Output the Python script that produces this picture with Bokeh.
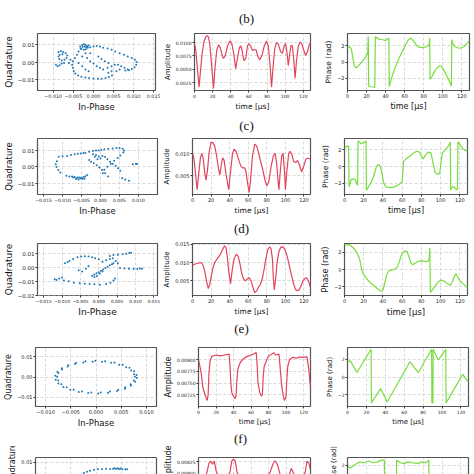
from bokeh.plotting import figure
from bokeh.layouts import column, row
from bokeh.models import Range1d, FixedTicker, CustomJSTickFormatter, Label, LinearAxis
from bokeh.embed import file_html
from bokeh.resources import INLINE

BLUE = "#1f77b4"
RED = "#e2445c"
GREEN = "#77dd3c"
FRAME = "#555555"

# ---------------- row (b) ----------------
b_i = [-0.0087,-0.0081,-0.0075,-0.0069,-0.0065,-0.0067,-0.0072,-0.0079,-0.0085,-0.0087,-0.0084,-0.0077,
       -0.0093,-0.0089,-0.0084,-0.0079,-0.0073,
       -0.0033,-0.0028,-0.0024,-0.0020,-0.0016,-0.0014,-0.0019,-0.0024,-0.0030,-0.0027,-0.0022,-0.0018,-0.0032,-0.0012,
       -0.0008,0.0,0.0008,0.0016,0.0024,0.0035,0.0045,0.0054,0.0065,0.0076,0.0085,0.0095,0.0103,0.0107,0.0106,0.0102,0.0095,0.0088,0.0079,
       -0.0037,-0.0041,-0.0046,-0.0051,-0.0053,-0.0051,-0.0049,-0.0045,-0.0038,-0.0030,-0.0020,-0.0011,0.0,0.0011,0.0020,0.0030,0.0038,0.0046,
       -0.0061,-0.0057,-0.0028,-0.0016,-0.0008,0.0,0.0008,0.0016,0.0024,0.0035,0.0045,0.0053,0.0061,0.0069,0.0077,0.0085,0.0057,0.0065,0.0045,0.0037,
       0.0012,0.0020,0.0028,0.0037,-0.0008,-0.0020,-0.0037,-0.0028,-0.0020,-0.0012]
b_q = [0.0056,0.0061,0.0057,0.0050,0.0037,0.0022,0.0013,0.0009,0.0017,0.0031,0.0041,0.0044,
       -0.0015,-0.0024,-0.0019,-0.0009,-0.0006,
       0.0087,0.0096,0.0100,0.0096,0.0091,0.0081,0.0072,0.0069,0.0074,0.0085,0.0087,0.0083,0.0076,0.0093,
       0.0083,0.0087,0.0091,0.0087,0.0081,0.0076,0.0069,0.0059,0.0050,0.0041,0.0031,0.0022,0.0013,0.0,-0.0015,-0.0030,-0.0039,-0.0046,-0.0048,
       0.0059,0.0041,0.0022,0.0004,-0.0015,-0.0033,-0.0052,-0.0065,-0.0076,-0.0083,-0.0087,-0.0091,-0.0093,-0.0094,-0.0094,-0.0091,-0.0085,-0.0076,
       -0.0006,0.0013,0.0031,0.0022,0.0004,-0.0009,-0.0024,-0.0033,-0.0043,-0.0033,-0.0024,-0.0015,-0.0015,-0.0024,-0.0033,-0.0043,-0.0052,-0.0043,-0.0052,-0.0061,
       0.0031,0.0017,0.0004,-0.0006,0.0050,0.0050,-0.0006,-0.0024,-0.0043,-0.0052]
b_amp_t = [0,1.5,3,5,6.5,8.5,10.5,12.5,14,15.5,17,19,21,22.5,24.5,26.5,28.5,30.5,32,34,36.5,39,41,43,45.5,47.5,49.5,51,52.5,54.5,56.5,58.5,60,62,64,66,68,70,72,74.5,77,79.5,81.5,83.5,85,86.5,88.5,90.5,92.5,95,97,99,100.5,102,103.5,105,106.5,108,109.5,111,112.5,114.5,116.5,118.5,120.5,122.5,124.5,126.5,128]
b_amp = [0.0098,0.0085,0.0055,0.0016,0.0045,0.0080,0.0102,0.0111,0.0113,0.0110,0.0095,0.0055,0.0014,0.0050,0.0085,0.0096,0.0090,0.0076,0.0070,0.0076,0.0094,0.0103,0.0099,0.0082,0.0051,0.0072,0.0090,0.0094,0.0085,0.0066,0.0070,0.0094,0.0098,0.0093,0.0085,0.0087,0.0086,0.0073,0.0068,0.0076,0.0094,0.0103,0.0093,0.0055,0.0016,0.0050,0.0088,0.0100,0.0097,0.0083,0.0080,0.0094,0.0098,0.0082,0.0057,0.0078,0.0095,0.0094,0.0068,0.0033,0.0065,0.0093,0.0101,0.0097,0.0086,0.0076,0.0082,0.0095,0.0101]
b_ph_t = [0,2,4,5.5,7,8.5,10,12,15,18,20.5,21.3,21.8,22.2,25,28.7,29.2,31,34,37,40,42,43.4,43.8,46,49,52,55,58,61,64,66.5,69,72,75,79,83,85.5,86.3,86.6,88.5,91,94,97,99,102,105,107.5,109,109.4,111,113,116,119,122,125,128]
b_ph = [1.8,1.85,1.6,0.6,-0.4,-0.7,-0.65,-0.4,0.0,0.45,0.9,1.2,3.1,-2.9,-3.0,-3.1,3.1,2.9,2.75,2.7,2.6,2.8,2.9,-3.0,-2.0,-1.0,-0.1,0.7,1.4,2.1,2.7,2.9,2.6,2.1,1.8,1.75,1.85,2.1,2.9,-2.1,-1.8,-1.2,-0.7,-0.45,-0.55,-1.2,-1.9,-2.5,-2.9,2.7,2.1,1.85,1.7,1.7,1.85,2.2,2.6]

# ---------------- row (c) ----------------
c_i = [-0.0115,-0.0118,-0.0116,-0.0111,-0.0106,-0.0110,-0.0100,-0.0088,-0.0078,-0.0068,-0.0060,-0.0052,-0.0045,-0.0040,
       -0.0030,-0.0020,-0.0012,-0.0005,0.0002,0.0010,0.0020,0.0032,0.0042,0.0050,0.0058,0.0062,0.0060,0.0052,0.0045,0.0036,0.0027,0.0018,0.0010,0.0006,
       0.0057,0.0065,0.0075,0.0085,0.0093,0.0096,
       -0.0075,-0.0068,-0.0060,-0.0055,-0.0050,-0.0045,-0.0040,-0.0035,-0.0062,-0.0053,-0.0047,-0.0042,
       -0.0020,-0.0012,-0.0005,0.0000,-0.0008,-0.0015,0.0005,0.0012,0.0018,0.0025,0.0032,0.0040,0.0046,0.0052,
       -0.0090,-0.0082,-0.0072,-0.0065,-0.0058,-0.0030,-0.0025,-0.0018,-0.0010,-0.0003,0.0004,0.0012,0.0020]
c_q = [0.0032,0.0015,-0.0002,-0.0020,-0.0035,0.0060,0.0063,0.0064,0.0070,0.0075,0.0078,0.0080,0.0082,0.0083,
       0.0090,0.0095,0.0097,0.0098,0.0100,0.0105,0.0108,0.0110,0.0112,0.0112,0.0108,0.0098,0.0085,0.0068,0.0052,0.0035,0.0018,0.0000,-0.0018,-0.0040,
       -0.0070,-0.0078,-0.0085,0.0015,0.0018,0.0016,
       -0.0060,-0.0063,-0.0066,-0.0065,-0.0068,-0.0062,-0.0058,-0.0050,-0.0068,-0.0072,-0.0075,-0.0072,
       0.0075,0.0070,0.0062,0.0050,0.0045,0.0060,0.0065,0.0058,0.0045,0.0030,0.0018,0.0005,-0.0010,-0.0025,
       -0.0055,-0.0060,-0.0065,-0.0075,-0.0078,0.0040,0.0030,0.0020,0.0008,-0.0005,-0.0020,-0.0040,-0.0060]
c_amp_t = [0,1.5,3,5,6.5,8.5,10,11.5,13,14.5,16,18,20,22,24,26,28,29.5,31,32.5,34,36,39,41,43,45,47,50,52,54,56,57.5,59.5,61,62.5,64.5,67,69,71,73,75.5,78,80,82,84.5,87,89,90.5,92,93,94.5,96,97.5,99,100,101.5,103.5,105,107,109,111,113,115,117.5,119.5,122,124.5,127]
c_amp = [0.0101,0.0090,0.0060,0.0018,0.0050,0.0090,0.0101,0.0090,0.0060,0.0040,0.0060,0.0105,0.0127,0.0125,0.0117,0.0095,0.0065,0.0052,0.0075,0.0091,0.0085,0.0055,0.0018,0.0060,0.0100,0.0111,0.0105,0.0085,0.0072,0.0068,0.0068,0.0060,0.0030,0.0012,0.0040,0.0095,0.0122,0.0118,0.0104,0.0085,0.0065,0.0040,0.0027,0.0035,0.0070,0.0095,0.0101,0.0080,0.0040,0.0018,0.0060,0.0095,0.0101,0.0060,0.0018,0.0060,0.0100,0.0106,0.0098,0.0082,0.0080,0.0085,0.0075,0.0059,0.0070,0.0088,0.0090,0.0088]
c_ph_t = [0,3,4.3,4.7,7,9,11,13,13.7,14.1,17,20,22.4,22.8,26,30,33,35,37,39,41,43,47,52,57,60,61.5,64,68,72,75,78,80,82,84,87,90,92,94,96,99,100.5,102,105,108,110.1,110.5,112,114,116,117.6,118,120,123,126,128]
c_ph = [2.2,2.4,2.4,-2.4,-1.5,-1.45,-1.5,-2.1,-2.2,3.0,2.7,2.8,3.0,-2.8,-2.2,-1.3,-0.1,0.25,0.1,-0.8,-2.0,-2.4,-2.5,-2.4,-2.1,-1.8,0.6,0.9,1.2,1.6,1.8,1.7,1.2,0.9,1.3,1.7,1.6,0.5,-0.6,-0.9,-0.85,0.5,1.6,2.0,2.4,2.9,-2.8,-2.4,-2.4,-2.7,-2.7,2.9,2.6,2.1,1.9,1.8]

# ---------------- row (d) ----------------
d_i = [-0.0120,-0.0115,-0.0108,-0.0100,-0.0092,-0.0085,-0.0080,-0.0070,-0.0058,-0.0048,-0.0038,-0.0028,-0.0018,-0.0010,0.0,
       0.0030,0.0040,0.0052,0.0065,0.0075,0.0083,0.0088,
       0.0058,0.0070,0.0082,0.0095,0.0105,0.0112,0.0118,
       -0.0018,-0.0012,-0.0006,0.0,0.0006,0.0012,0.0018,0.0024,0.0030,0.0036,0.0040,-0.0012,-0.0005,0.0003,0.0010,
       -0.0095,-0.0082,-0.0068,-0.0052,-0.0038,-0.0025,-0.0012,0.0003,0.0020,0.0032,0.0040,0.0044,
       -0.0055,-0.0045,-0.0035,-0.0028,0.0010,0.0020,0.0030,0.0038,0.0046,0.0052]
d_q = [-0.0085,-0.0090,-0.0080,-0.0072,0.0030,0.0038,0.0045,0.0060,0.0072,0.0078,0.0080,0.0078,0.0072,0.0065,0.0058,
       0.0082,0.0088,0.0090,0.0093,0.0098,0.0102,0.0105,
       -0.0005,-0.0008,-0.0010,-0.0012,-0.0012,-0.0008,-0.0010,
       -0.0060,-0.0052,-0.0042,-0.0035,-0.0025,-0.0015,-0.0005,0.0005,0.0015,0.0022,0.0030,-0.0070,-0.0062,-0.0045,-0.0030,
       -0.0095,-0.0100,-0.0110,-0.0115,-0.0118,-0.0120,-0.0122,-0.0125,-0.0120,-0.0110,-0.0095,-0.0080,
       -0.0020,-0.0030,-0.0010,0.0010,0.0040,0.0050,0.0060,0.0065,0.0045,0.0030]
d_amp_t = [0,3,6,9,11,13,15,17,18.5,20,22,24,27,30,32.5,34.5,36,37.5,39,41,42.5,44.5,47,49,51,53,55,57,59,61,63,65,67,69,71,73,75,77,79,81,83,84.5,86,87,88,89.5,91,93,95,97,99,101,103,105,107,109,111,113,115,117,119,121,123,125,127]
d_amp = [0.0093,0.0096,0.0098,0.0100,0.0095,0.0078,0.0050,0.0029,0.0040,0.0060,0.0085,0.0100,0.0112,0.0122,0.0136,0.0146,0.0140,0.0115,0.0075,0.0042,0.0075,0.0108,0.0123,0.0118,0.0098,0.0070,0.0055,0.0050,0.0055,0.0059,0.0050,0.0032,0.0018,0.0022,0.0033,0.0040,0.0055,0.0080,0.0110,0.0135,0.0143,0.0138,0.0110,0.0060,0.0025,0.0055,0.0100,0.0130,0.0142,0.0143,0.0138,0.0125,0.0105,0.0082,0.0060,0.0040,0.0026,0.0023,0.0026,0.0038,0.0050,0.0057,0.0058,0.0048,0.0032]
d_ph_t = [0,2,4,6,8,10,12,14,16,17.5,19,22,25,28,31,34,37,39,40.5,42,44,46,49,52,55,57,59,61,63,65,67,69,71,74,77,81,85,88,88.7,89.4,92,95,98,101,104,107,110,112,114,116,118,120,123,126,128]
d_ph = [2.8,2.85,2.9,2.8,2.6,2.4,2.1,1.7,1.1,0.2,-0.4,-0.9,-1.3,-1.6,-1.9,-2.2,-2.45,-2.5,-2.2,-1.5,-0.6,-0.15,-0.05,0.0,0.3,0.9,1.6,2.0,2.15,2.1,1.5,0.8,0.55,0.75,0.95,1.0,0.9,1.05,2.5,-2.65,-2.3,-1.8,-1.4,-1.2,-1.35,-1.65,-1.8,-1.5,-0.9,-0.5,-0.9,-1.3,-1.6,-1.9,-2.1]

# ---------------- row (e) ----------------
e_i = [0.00804,0.00756,0.00664,0.00531,0.00368,0.00182,-0.00014,-0.00210,-0.00393,-0.00552,-0.00679,-0.00766,-0.00807,
       -0.00800,-0.00746,-0.00647,-0.00510,-0.00342,-0.00155,0.00042,0.00237,0.00417,0.00573,0.00694,0.00775,0.00809,
       0.00756,0.00698,0.00598,0.00463,0.00301,0.00120,-0.00067,-0.00251,-0.00419,-0.00563,-0.00673,-0.00744,-0.00770,
       -0.00750,-0.00686,-0.00581,-0.00442,-0.00276,-0.00094,0.00094,0.00276,0.00442,0.00581,0.00686,0.00750,0.00770]
e_q = [0.00099,0.00290,0.00465,0.00611,0.00722,0.00789,0.00810,0.00782,0.00708,0.00592,0.00441,0.00264,0.00071,
       -0.00127,-0.00316,-0.00487,-0.00629,-0.00734,-0.00795,-0.00809,-0.00775,-0.00694,-0.00573,-0.00417,-0.00237,-0.00042,
       0.00147,0.00325,0.00485,0.00615,0.00709,0.00761,0.00767,0.00728,0.00646,0.00525,0.00373,0.00199,0.00013,
       -0.00173,-0.00350,-0.00505,-0.00631,-0.00719,-0.00764,-0.00764,-0.00719,-0.00631,-0.00505,-0.00350,-0.00173,0.00013]
e_amp_t = [0,3,5,8,10,11,12,13,15,20,25,30,35,36,37,38,40,42,43,44,45,48,52,56,60,63,66,67,68,70,72,73,74,75,78,80,84,86,88,92,93,95,97,98,100,101,102,104,108,112,116,120,124,126,128]
e_amp = [0.00800,0.00773,0.00740,0.00722,0.00713,0.00725,0.00773,0.00795,0.00807,0.00810,0.00808,0.00810,0.00812,0.00785,0.00750,0.00730,0.00722,0.00717,0.00725,0.00760,0.00780,0.00795,0.00803,0.00807,0.00810,0.00812,0.00815,0.00790,0.00750,0.00730,0.00722,0.00725,0.00765,0.00785,0.00800,0.00808,0.00812,0.00815,0.00810,0.00812,0.00790,0.00745,0.00722,0.00713,0.00720,0.00760,0.00785,0.00800,0.00805,0.00803,0.00806,0.00805,0.00806,0.00780,0.00740]
e_ph_t = [0,3,10,25,25.3,35,42,66,75,89,89.3,90.3,90.6,96,104,104.3,122,128]
e_ph = [1.7,1.8,0.5,3.1,-2.9,-1.3,-2.8,1.7,0.5,3.1,-2.9,-2.9,3.1,1.9,3.1,-2.9,0.3,-0.6]

# ---------------- row (f) (cut off) ----------------
f_i = [-0.0030,-0.0024,-0.0018,-0.0012,-0.0004,0.0004,0.0012,0.0020,0.0028,0.0034,0.0040,0.0046,0.0052,0.0058,0.0062,0.0037,0.0043,0.0049]
f_q = [0.0045,0.0053,0.0058,0.0063,0.0067,0.0070,0.0071,0.0072,0.0071,0.0072,0.0071,0.0071,0.0070,0.0070,0.0070,0.0074,0.0074,0.0073]
f_amp_t = [0,5,9,12,14,16,18,20,24,30,36,38,40,42,44,48,55,65,75,82,85,87,89,91,94,100,104,106,108,112,118,122,124,126,128]
f_amp = [0.00790,0.00792,0.00800,0.00822,0.00826,0.00820,0.00826,0.00808,0.00790,0.00785,0.00805,0.00826,0.00830,0.00826,0.00805,0.00790,0.00785,0.00785,0.00790,0.00805,0.00820,0.00826,0.00824,0.00815,0.00795,0.00790,0.00800,0.00812,0.00805,0.00790,0.00790,0.00805,0.00826,0.00822,0.00810]
f_ph_t = [0,3,8,13,18,22,27,32,36,39,39.4,51.5,52,56,60,64,69,74,79,83,86,86.4,128]
f_ph = [1.9,1.7,2.1,2.4,2.3,2.5,2.3,2.4,2.6,2.6,-3.0,-3.0,2.6,2.3,2.2,2.4,2.3,2.2,2.4,2.3,2.6,-3.0,-3.0]

T_TICKS = [0, 20, 40, 60, 80, 100, 120]
PANEL_TITLES = ["(b)", "(c)", "(d)", "(e)", "(f)"]


def fmt(d):
    return CustomJSTickFormatter(code="return (tick < 0 ? '\\u2212' : '') + Math.abs(tick).toFixed(%d);" % d)


def make(w, h, bl, br, bt, bb, xr, yr, xt, yt, xd, yd, xlabel, ylabel, xtfs, ytfs, xlfs, ylfs, cut=False):
    p = figure(width=w, height=h, x_range=Range1d(*xr), y_range=Range1d(*yr),
               output_backend="svg", toolbar_location=None,
               min_border_left=bl, min_border_right=br, min_border_top=bt, min_border_bottom=bb)
    p.background_fill_color = "white"
    p.border_fill_color = "white"
    p.outline_line_color = FRAME
    p.outline_line_width = 1.2
    p.xaxis.ticker = FixedTicker(ticks=xt)
    p.yaxis.ticker = FixedTicker(ticks=yt)
    p.xaxis.formatter = fmt(xd)
    p.yaxis.formatter = fmt(yd)
    for ax in (p.xaxis[0], p.yaxis[0]):
        ax.axis_line_color = None
        ax.major_tick_line_color = "#333333"
        ax.major_tick_out = 2
        ax.major_tick_in = 0
        ax.minor_tick_line_color = None
        ax.major_label_text_font = "DejaVu Sans"
        ax.major_label_text_color = "#222222"
        ax.major_label_standoff = 1
        ax.axis_label_standoff = 1
        ax.axis_label_text_font = "DejaVu Sans"
        ax.axis_label_text_font_style = "normal"
        ax.axis_label_text_color = "#111111"
    p.xaxis.major_label_text_font_size = xtfs
    p.yaxis.major_label_text_font_size = ytfs
    p.xaxis.axis_label = xlabel
    p.yaxis.axis_label = ylabel
    p.xaxis.axis_label_text_font_size = xlfs
    p.yaxis.axis_label_text_font_size = ylfs
    for g in (p.xgrid[0], p.ygrid[0]):
        g.grid_line_color = "#cfcfcf"
        g.grid_line_dash = "3 2"
        g.grid_line_width = 0.8
    if cut:
        p.xaxis.visible = False
        p.outline_line_color = None
        p.yaxis.axis_line_color = FRAME
        p.yaxis.axis_line_width = 1.2
        for side in ("above", "right"):
            a = LinearAxis(ticker=FixedTicker(ticks=[]), axis_line_color=FRAME, axis_line_width=1.2,
                           major_tick_line_color=None, minor_tick_line_color=None,
                           major_label_text_font_size="0px")
            p.add_layout(a, side)
    return p


def strip(h, text, cx, cy):
    s = figure(width=474, height=h, x_range=Range1d(0, 474), y_range=Range1d(0, h),
               output_backend="svg", toolbar_location=None, x_axis_location=None, y_axis_location=None,
               min_border=0)
    s.outline_line_color = None
    s.grid.visible = False
    s.background_fill_color = "white"
    s.border_fill_color = "white"
    s.add_layout(Label(x=cx, y=cy, text=text, text_align="center", text_baseline="middle",
                       text_font="Liberation Serif", text_font_size="13px", text_color="#111111"))
    return s


items = []
MS = 2.0
LW = 1.2

# title (b)
items.append(strip(30, PANEL_TITLES[0], 246, 12))
# row b
h, bt, bb = 84, 3, 23
p1 = make(160, h, 35, 5, bt, bb, (-0.0139, 0.0154), (-0.0161, 0.0161),
          [-0.010, -0.005, 0.0, 0.005, 0.010, 0.015], [-0.01, 0.0, 0.01], 3, 2,
          "In-Phase", "Quadrature", "4.8px", "5.5px", "8.5px", "9px")
p1.scatter(b_i, b_q, size=MS, color=BLUE, line_color=None)
p2 = make(154, h, 31, 4, bt, bb, (0, 128), (0.0010, 0.0117), T_TICKS, [0.0025, 0.005, 0.0075, 0.01], 0, 4,
          "time [\u03bcs]", "Amplitude", "4.5px", "4.5px", "7.5px", "7px")
p2.line(b_amp_t, b_amp, color=RED, line_width=LW)
p3 = make(160, h, 33, 5, bt, bb, (0, 128), (-3.46, 3.46), T_TICKS, [-2, 0, 2], 0, 0,
          "time [\u03bcs]", "Phase (rad)", "5px", "5px", "8px", "7.5px")
p3.line(b_ph_t, b_ph, color=GREEN, line_width=LW)
items.append(row(p1, p2, p3))

# title (c)
items.append(strip(20, PANEL_TITLES[1], 246, 9))
# row c
h, bt, bb = 84, 4, 23
p1 = make(160, h, 32, 3, bt, bb, (-0.0166, 0.0150), (-0.0168, 0.0170),
          [-0.015, -0.010, -0.005, 0.0, 0.005, 0.010], [-0.01, 0.0, 0.01], 3, 2,
          "In-Phase", "Quadrature", "4.5px", "5.5px", "8.5px", "8.5px")
p1.scatter(c_i, c_q, size=MS, color=BLUE, line_color=None)
p2 = make(154, h, 28, 4, bt, bb, (0, 127), (0.0007, 0.0135), T_TICKS, [0.005, 0.010], 0, 3,
          "time [\u03bcs]", "Amplitude", "5px", "5px", "7.5px", "7px")
p2.line(c_amp_t, c_amp, color=RED, line_width=LW)
p3 = make(160, h, 30, 7, bt, bb, (0, 128), (-3.3, 3.3), T_TICKS, [-2, 0, 2], 0, 0,
          "time [\u03bcs]", "Phase (rad)", "5px", "5px", "8px", "7.5px")
p3.line(c_ph_t, c_ph, color=GREEN, line_width=LW)
items.append(row(p1, p2, p3))

# title (d)
items.append(strip(20, PANEL_TITLES[2], 241, 10))
# row d
h, bt, bb = 81, 5, 20
p1 = make(160, h, 32, 3, bt, bb, (-0.0167, 0.0160), (-0.0202, 0.0171),
          [-0.015, -0.010, -0.005, 0.0, 0.005, 0.010, 0.015], [-0.02, -0.01, 0.0, 0.01], 3, 2,
          "In-Phase", "Quadrature", "4.3px", "5.5px", "9px", "9px")
p1.scatter(d_i, d_q, size=MS, color=BLUE, line_color=None)
p2 = make(154, h, 28, 4, bt, bb, (0, 127), (0.0010, 0.0152), T_TICKS, [0.005, 0.010, 0.015], 0, 3,
          "time [\u03bcs]", "Amplitude", "5px", "5px", "7.5px", "7px")
p2.line(d_amp_t, d_amp, color=RED, line_width=LW)
p3 = make(160, h, 30, 7, bt, bb, (0, 128), (-3.0, 3.0), T_TICKS, [-2, 0, 2], 0, 0,
          "time [\u03bcs]", "Phase (rad)", "5px", "5px", "8.5px", "8px")
p3.line(d_ph_t, d_ph, color=GREEN, line_width=LW)
items.append(row(p1, p2, p3))

# title (e)
items.append(strip(18, PANEL_TITLES[3], 241, 9))
# row e
h, bt, bb = 93, 10, 24
p1 = make(160, h, 35, 4, bt, bb, (-0.0120, 0.0120), (-0.0146, 0.0147),
          [-0.010, -0.005, 0.0, 0.005, 0.010], [-0.01, 0.0, 0.01], 3, 2,
          "In-Phase", "Quadrature", "5px", "5px", "8.5px", "8px")
p1.scatter(e_i, e_q, size=MS, color=BLUE, line_color=None)
p2 = make(154, h, 31, 4, bt, bb, (0, 128), (0.00700, 0.00826), T_TICKS, [0.00725, 0.0075, 0.00775, 0.008], 0, 5,
          "time [\u03bcs]", "Amplitude", "4.5px", "4.5px", "7px", "8px")
p2.line(e_amp_t, e_amp, color=RED, line_width=LW)
p3 = make(160, h, 33, 6, bt, bb, (0, 128), (-3.3, 3.3), T_TICKS, [-2, 0, 2], 0, 0,
          "time [\u03bcs]", "Phase (rad)", "4.5px", "4.5px", "7px", "7px")
p3.line(e_ph_t, e_ph, color=GREEN, line_width=LW)
items.append(row(p1, p2, p3))

# title (f)
items.append(strip(16, PANEL_TITLES[4], 240, 8))
# row f (cut by the page edge)
h, bt, bb = 28, 11, 0
p1 = make(160, h, 35, 4, bt, bb, (-0.0120, 0.0120), (0.0046, 0.0122),
          [-0.010, -0.005, 0.0, 0.005, 0.010], [0.01], 3, 2,
          "", "Quadrature", "5px", "5px", "8.5px", "8px", cut=True)
p1.scatter(f_i, f_q, size=MS, color=BLUE, line_color=None)
p2 = make(154, h, 31, 4, bt, bb, (0, 128), (0.00800, 0.00833), T_TICKS, [0.008, 0.00825], 0, 5,
          "", "Amplitude", "4.5px", "4.5px", "7px", "8px", cut=True)
p2.line(f_amp_t, f_amp, color=RED, line_width=LW)
p3 = make(160, h, 33, 6, bt, bb, (0, 128), (0.97, 2.9), T_TICKS, [2], 0, 0,
          "", "Phase (rad)", "4.5px", "4.5px", "7px", "7px", cut=True)
p3.line(f_ph_t, f_ph, color=GREEN, line_width=LW)
items.append(row(p1, p2, p3))

layout = column(*items)
open("out.html", "w").write(file_html(layout, INLINE))
